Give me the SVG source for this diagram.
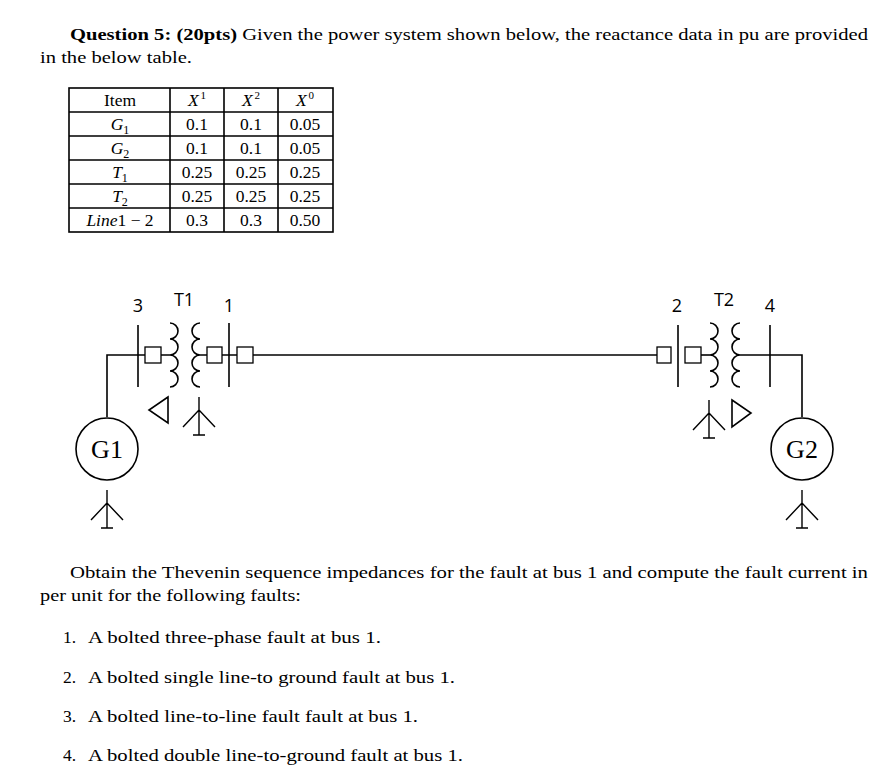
<svg xmlns="http://www.w3.org/2000/svg" width="880" height="775" viewBox="0 0 880 775">
<style>
.t{font-family:"Liberation Serif","DejaVu Serif",serif;font-size:17.5px;fill:#000}
.c{text-anchor:middle}
.i{font-style:italic}
.s{font-family:"Open Sans","DejaVu Sans",sans-serif;font-size:18px;text-anchor:middle}
.g{font-family:"Liberation Serif",serif;font-size:26px;text-anchor:middle}
.l{stroke:#000;stroke-width:1.6;fill:none}
.w{stroke:#000;stroke-width:1.3;fill:#fff}
</style>
<defs>
<g id="gnd" class="l"><path d="M0,0V38M0,13L-16,30M0,13L16,30M-6,38H6" stroke-width="1.4"/></g>
<path id="coilR" class="l" d="M0,0a8,8 0 0 1 0,16a8,8 0 0 1 0,16a8,8 0 0 1 0,16a8,8 0 0 1 0,16"/>
<path id="coilL" class="l" d="M0,0a8,8 0 0 0 0,16a8,8 0 0 0 0,16a8,8 0 0 0 0,16a8,8 0 0 0 0,16"/>
</defs>
<text class="t" x="70" y="40" textLength="798" lengthAdjust="spacingAndGlyphs"><tspan font-weight="bold">Question 5:</tspan> <tspan font-weight="bold">(20pts)</tspan> Given the power system shown below, the reactance data in pu are provided</text>
<text class="t" x="40" y="63" textLength="152" lengthAdjust="spacingAndGlyphs">in the below table.</text>
<g id="table">
<rect x="69" y="88" width="264" height="144" class="l" stroke-width="1.2"/>
<path class="l" stroke-width="1.2" d="M69,112H333M69,136H333M69,160H333M69,184H333M69,208H333M170,88V232M224,88V232M278,88V232"/>
<g class="t c">
<text x="120" y="106">Item</text>
<text x="197" y="106"><tspan class="i">X</tspan><tspan font-size="11" dx="2" dy="-7">1</tspan></text>
<text x="251" y="106"><tspan class="i">X</tspan><tspan font-size="11" dx="2" dy="-7">2</tspan></text>
<text x="305" y="106"><tspan class="i">X</tspan><tspan font-size="11" dx="2" dy="-7">0</tspan></text>
<text x="120" y="130"><tspan class="i">G</tspan><tspan font-size="12" dy="4">1</tspan></text>
<text x="120" y="154"><tspan class="i">G</tspan><tspan font-size="12" dy="4">2</tspan></text>
<text x="120" y="178"><tspan class="i">T</tspan><tspan font-size="12" dy="4">1</tspan></text>
<text x="120" y="202"><tspan class="i">T</tspan><tspan font-size="12" dy="4">2</tspan></text>
<text x="120" y="226"><tspan class="i">Line</tspan>1 − 2</text>
<text x="197" y="130">0.1</text><text x="251" y="130">0.1</text><text x="305" y="130">0.05</text>
<text x="197" y="154">0.1</text><text x="251" y="154">0.1</text><text x="305" y="154">0.05</text>
<text x="197" y="178">0.25</text><text x="251" y="178">0.25</text><text x="305" y="178">0.25</text>
<text x="197" y="202">0.25</text><text x="251" y="202">0.25</text><text x="305" y="202">0.25</text>
<text x="197" y="226">0.3</text><text x="251" y="226">0.3</text><text x="305" y="226">0.50</text>
</g>
</g>
<g id="connectors" class="l">
<path d="M107,417V355H170"/>
<path d="M200,355H657"/>
<path d="M701,355H710"/>
<path d="M740,355H802V417"/>
</g>
<g id="G1">
<circle cx="107" cy="449" r="31" class="l" stroke-width="1.4"/>
<text class="g" x="107" y="458">G1</text>
<use href="#gnd" x="107" y="490"/>
</g>
<g id="bus3"><path class="l" d="M138,325V387"/><text class="s" x="138" y="312">3</text></g>
<g id="T1">
<rect x="145" y="347" width="16" height="16" class="w"/>
<use href="#coilR" x="170" y="323"/>
<use href="#coilL" x="200" y="323"/>
<rect x="207" y="347" width="15" height="16" class="w"/>
<text class="s" x="184" y="306">T1</text>
<path class="l" stroke-width="1.3" d="M168,397L149,410L168,423Z"/>
<use href="#gnd" x="199" y="397"/>
</g>
<g id="bus1"><path class="l" d="M229,323V387"/><rect x="237" y="347" width="16" height="16" class="w"/><text class="s" x="229" y="312">1</text></g>
<g id="bus2"><rect x="657" y="347" width="14" height="16" class="w"/><path class="l" d="M678,325V387"/><text class="s" x="677" y="312">2</text></g>
<g id="T2">
<rect x="685" y="347" width="16" height="16" class="w"/>
<use href="#coilR" x="710" y="323"/>
<use href="#coilL" x="740" y="323"/>
<text class="s" x="724" y="306">T2</text>
<use href="#gnd" x="709" y="400"/>
<path class="l" stroke-width="1.3" d="M732,400L751,413L732,427Z"/>
</g>
<g id="bus4"><path class="l" d="M770,325V387"/><text class="s" x="770" y="312">4</text></g>
<g id="G2">
<circle cx="802" cy="449" r="31" class="l" stroke-width="1.4"/>
<text class="g" x="802" y="458">G2</text>
<use href="#gnd" x="802" y="490"/>
</g>
<text class="t" x="70" y="578" textLength="798" lengthAdjust="spacingAndGlyphs">Obtain the Thevenin sequence impedances for the fault at bus 1 and compute the fault current in</text>
<text class="t" x="40" y="601" textLength="261" lengthAdjust="spacingAndGlyphs">per unit for the following faults:</text>
<text class="t" x="63" y="643">1.</text><text class="t" x="88" y="643" textLength="293" lengthAdjust="spacingAndGlyphs">A bolted three-phase fault at bus 1.</text>
<text class="t" x="63" y="683">2.</text><text class="t" x="88" y="683" textLength="367" lengthAdjust="spacingAndGlyphs">A bolted single line-to ground fault at bus 1.</text>
<text class="t" x="63" y="722">3.</text><text class="t" x="88" y="722" textLength="330" lengthAdjust="spacingAndGlyphs">A bolted line-to-line fault fault at bus 1.</text>
<text class="t" x="63" y="761">4.</text><text class="t" x="88" y="761" textLength="375" lengthAdjust="spacingAndGlyphs">A bolted double line-to-ground fault at bus 1.</text>
</svg>
